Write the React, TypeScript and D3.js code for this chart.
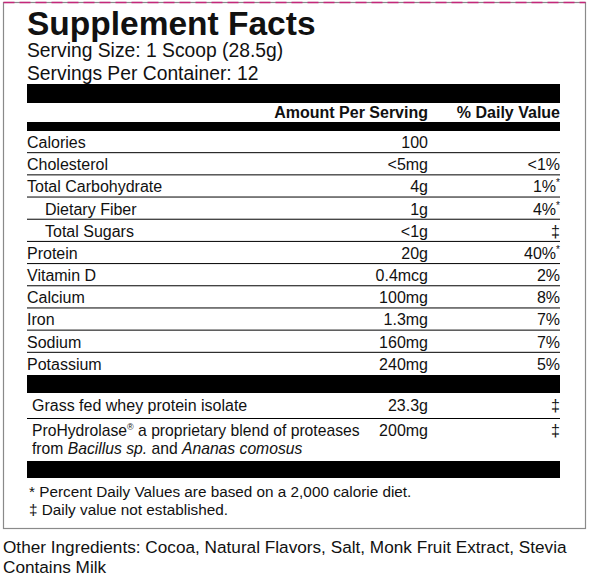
import { scaleLinear } from "d3"

const nutrients = ["Calories", "Cholesterol", "Total Carbohydrate", "Dietary Fiber", "Total Sugars", "Protein", "Vitamin D", "Calcium", "Iron", "Sodium", "Potassium"]
const amounts = ["100", "<5mg", "4g", "1g", "<1g", "20g", "0.4mcg", "100mg", "1.3mg", "160mg", "240mg"]
const dailyValues = ["", "<1%", "1%", "4%", "‡", "40%", "2%", "8%", "7%", "7%", "5%"]
const starred = [false, false, true, true, false, true, false, false, false, false, false]
const indented = [false, false, false, true, true, false, false, false, false, false, false]

const footnotes = ["* Percent Daily Values are based on a 2,000 calorie diet.", "‡ Daily value not established."]
const otherLines = ["Other Ingredients: Cocoa, Natural Flavors, Salt, Monk Fruit Extract, Stevia", "Contains Milk"]

const W = 589
const H = 579
const left = 27
const right = 560
const amountX = 428
const font = "'Liberation Sans', Arial, Helvetica, sans-serif"

export default function App() {
  const rowY = scaleLinear().domain([0, nutrients.length]).range([131, 375])

  return (
    <div style={{ position: "absolute", left: 0, top: 0 }}>
      <svg width={W} height={H} viewBox={`0 0 ${W} ${H}`} style={{ display: "block", background: "#fff" }} fontFamily={font} fill="#111">
        {/* outer panel */}
        <rect x={3.5} y={2.5} width={582} height={526} fill="none" stroke="#8a8a8a" strokeWidth={1.2} />
        <line x1={3.5} x2={585.5} y1={2.5} y2={2.5} stroke="#c4277a" strokeWidth={1.6} strokeDasharray="11 5" />

        <text x={left} y={35} fontSize={33.5} fontWeight="bold" letterSpacing={0}>Supplement Facts</text>
        <text x={left} y={57} fontSize={19.3}>Serving Size: 1 Scoop (28.5g)</text>
        <text x={left} y={80} fontSize={19.3}>Servings Per Container: 12</text>

        <rect x={left} y={84} width={right - left} height={19} fill="#000" />
        <text x={amountX} y={118} fontSize={16} fontWeight="bold" textAnchor="end">Amount Per Serving</text>
        <text x={right} y={118} fontSize={16} fontWeight="bold" textAnchor="end">% Daily Value</text>
        <rect x={left} y={122} width={right - left} height={9} fill="#000" />

        {nutrients.map((name, i) => {
          const top = rowY(i)
          const bottom = rowY(i + 1)
          return (
            <g key={name}>
              <text x={indented[i] ? left + 18 : left} y={top + 17} fontSize={16}>{name}</text>
              <text x={amountX} y={top + 17} fontSize={16} textAnchor="end">{amounts[i]}</text>
              <text x={right} y={top + 17} fontSize={16} textAnchor="end">
                {dailyValues[i]}
                {starred[i] && <tspan fontSize={10} dy={-6}>*</tspan>}
              </text>
              {i < nutrients.length - 1 && (
                <line x1={left} x2={right} y1={bottom - 0.5} y2={bottom - 0.5} stroke="#000" strokeWidth={1} />
              )}
            </g>
          )
        })}

        <rect x={left} y={375} width={right - left} height={18} fill="#000" />

        <text x={left + 5} y={411} fontSize={16}>Grass fed whey protein isolate</text>
        <text x={amountX} y={411} fontSize={16} textAnchor="end">23.3g</text>
        <text x={right} y={411} fontSize={16} textAnchor="end">‡</text>
        <line x1={left} x2={right} y1={418.5} y2={418.5} stroke="#000" strokeWidth={1} />

        <text x={left + 5} y={436} fontSize={15.7}>
          ProHydrolase<tspan fontSize={9} dy={-6}>®</tspan><tspan dy={6}> a proprietary blend of proteases</tspan>
        </text>
        <text x={left + 5} y={454} fontSize={15.7}>
          from <tspan fontStyle="italic">Bacillus sp.</tspan> and <tspan fontStyle="italic">Ananas comosus</tspan>
        </text>
        <text x={amountX} y={436} fontSize={16} textAnchor="end">200mg</text>
        <text x={right} y={436} fontSize={16} textAnchor="end">‡</text>

        <rect x={left} y={461} width={right - left} height={17} fill="#000" />

        {footnotes.map((t, i) => (
          <text key={t} x={left + 2} y={497 + i * 18} fontSize={15.3}>{t}</text>
        ))}

        {otherLines.map((t, i) => (
          <text key={t} x={3} y={553 + i * 20} fontSize={17.2}>{t}</text>
        ))}
      </svg>
    </div>
  )
}
